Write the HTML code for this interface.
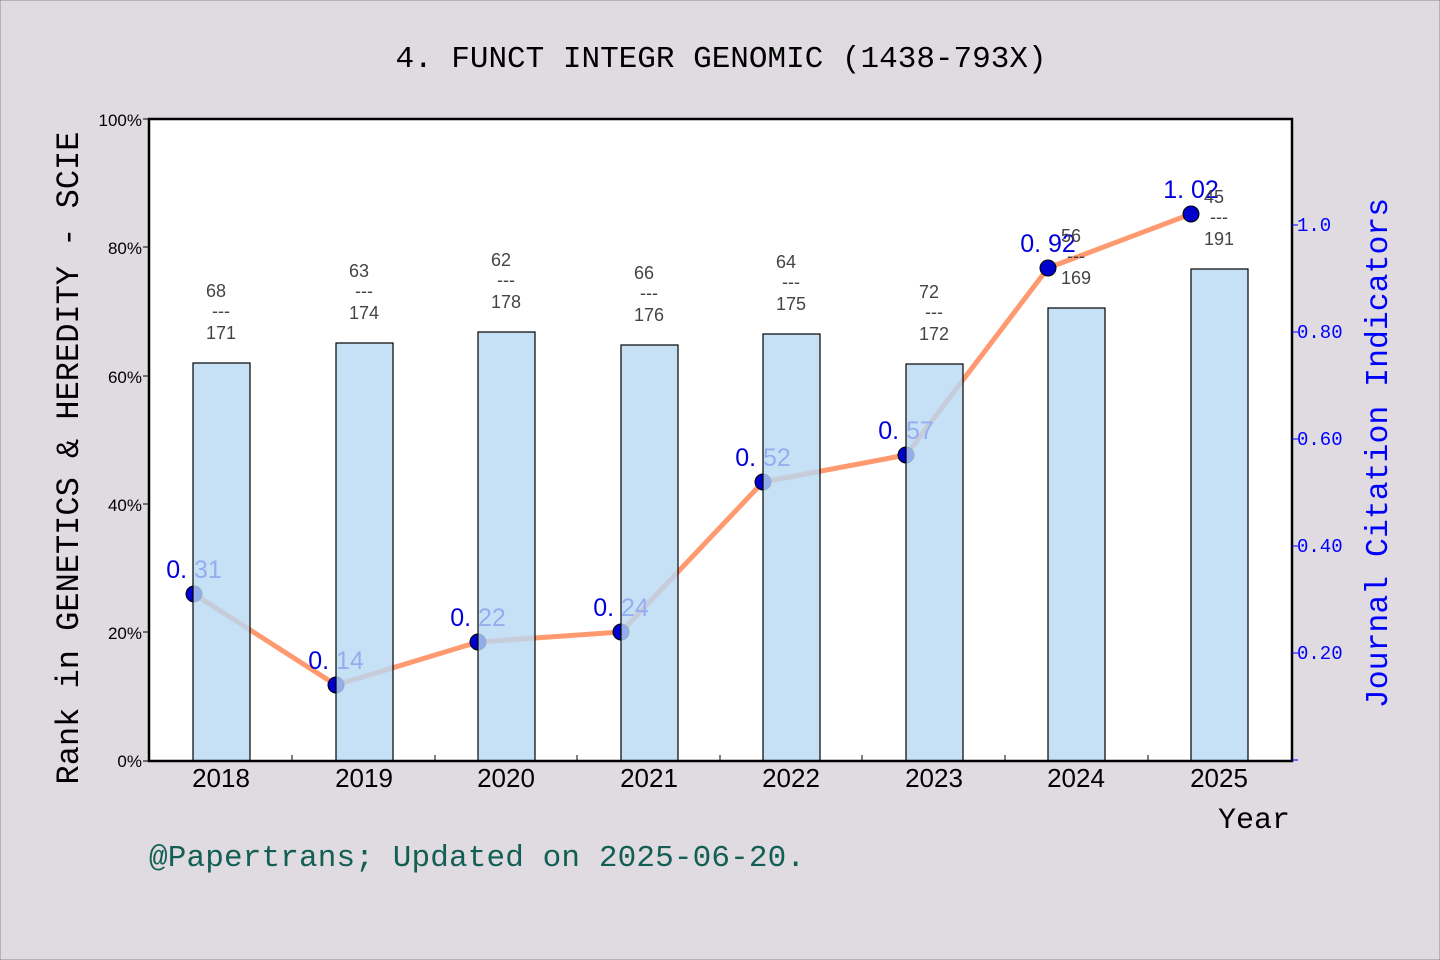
<!DOCTYPE html>
<html><head><style>body{margin:0;background:#dfdbe0}svg{display:block}</style></head><body>
<svg width="1440" height="960" xmlns="http://www.w3.org/2000/svg" font-family="'Liberation Mono','DejaVu Sans Mono',monospace">
<rect x="0" y="0" width="1440" height="960" fill="#dfdbe0" stroke="#888" stroke-width="1"/>
<text x="721" y="67" font-size="31" text-anchor="middle" fill="#000">4. FUNCT INTEGR GENOMIC (1438-793X)</text>
<rect x="149" y="119" width="1143" height="642" fill="#fff"/>
<polyline points="194,594 336,685 478,642 621,632 763,482 906,455 1048,268 1191,214" fill="none" stroke="#ff9a70" stroke-width="5" stroke-linejoin="round"/>
<g fill="#0000cc" stroke="#000" stroke-width="1">
<circle cx="194" cy="594" r="8"/><circle cx="336" cy="685" r="8"/><circle cx="478" cy="642" r="8"/><circle cx="621" cy="632" r="8"/><circle cx="763" cy="482" r="8"/><circle cx="906" cy="455" r="8"/><circle cx="1048" cy="268" r="8"/><circle cx="1191" cy="214" r="8"/>
</g>
<g fill="#0000dd" font-size="25" text-anchor="middle" font-family="'Liberation Sans',sans-serif">
<text x="194" y="578">0. 31</text><text x="336" y="669">0. 14</text><text x="478" y="626">0. 22</text><text x="621" y="616">0. 24</text><text x="763" y="466">0. 52</text><text x="906" y="439">0. 57</text><text x="1048" y="252">0. 92</text><text x="1191" y="198">1. 02</text>
</g>
<g fill="rgb(184,216,244)" fill-opacity="0.8" stroke="#000" stroke-width="1.2">
<rect x="193" y="363" width="57" height="398"/><rect x="336" y="343" width="57" height="418"/><rect x="478" y="332" width="57" height="429"/><rect x="621" y="345" width="57" height="416"/><rect x="763" y="334" width="57" height="427"/><rect x="906" y="364" width="57" height="397"/><rect x="1048" y="308" width="57" height="453"/><rect x="1191" y="269" width="57" height="492"/>
</g>
<g fill="#444" font-size="18" text-anchor="middle" font-family="'Liberation Sans',sans-serif">
<text x="216" y="297">68</text><text x="221" y="317">---</text><text x="221" y="339">171</text>
<text x="359" y="277">63</text><text x="364" y="297">---</text><text x="364" y="319">174</text>
<text x="501" y="266">62</text><text x="506" y="286">---</text><text x="506" y="308">178</text>
<text x="644" y="279">66</text><text x="649" y="299">---</text><text x="649" y="321">176</text>
<text x="786" y="268">64</text><text x="791" y="288">---</text><text x="791" y="310">175</text>
<text x="929" y="298">72</text><text x="934" y="318">---</text><text x="934" y="340">172</text>
<text x="1071" y="242">56</text><text x="1076" y="262">---</text><text x="1076" y="284">169</text>
<text x="1214" y="203">45</text><text x="1219" y="223">---</text><text x="1219" y="245">191</text>
</g>
<rect x="149" y="119" width="1143" height="642" fill="none" stroke="#000" stroke-width="2.5"/>
<g stroke="#000" stroke-width="1">
<line x1="143" y1="119" x2="149" y2="119"/><line x1="143" y1="247" x2="149" y2="247"/><line x1="143" y1="376" x2="149" y2="376"/><line x1="143" y1="504" x2="149" y2="504"/><line x1="143" y1="632" x2="149" y2="632"/><line x1="143" y1="761" x2="149" y2="761"/>
<line x1="292" y1="755" x2="292" y2="761"/><line x1="435" y1="755" x2="435" y2="761"/><line x1="577" y1="755" x2="577" y2="761"/><line x1="720" y1="755" x2="720" y2="761"/><line x1="862" y1="755" x2="862" y2="761"/><line x1="1005" y1="755" x2="1005" y2="761"/><line x1="1148" y1="755" x2="1148" y2="761"/>
</g>
<g stroke="#00f" stroke-width="1">
<line x1="1292" y1="225" x2="1298" y2="225"/><line x1="1292" y1="332" x2="1298" y2="332"/><line x1="1292" y1="439" x2="1298" y2="439"/><line x1="1292" y1="546" x2="1298" y2="546"/><line x1="1292" y1="653" x2="1298" y2="653"/><line x1="1292" y1="760" x2="1298" y2="760"/>
</g>
<g font-size="17" text-anchor="end" fill="#000" font-family="'Liberation Sans',sans-serif">
<text x="142" y="126">100%</text><text x="142" y="254">80%</text><text x="142" y="383">60%</text><text x="142" y="511">40%</text><text x="142" y="639">20%</text><text x="142" y="767">0%</text>
</g>
<g font-size="19" fill="#00f">
<text x="1297" y="231">1.0</text><text x="1297" y="338">0.80</text><text x="1297" y="445">0.60</text><text x="1297" y="552">0.40</text><text x="1297" y="659">0.20</text>
</g>
<g font-size="26" text-anchor="middle" fill="#000" font-family="'Liberation Sans',sans-serif">
<text x="221" y="787">2018</text><text x="364" y="787">2019</text><text x="506" y="787">2020</text><text x="649" y="787">2021</text><text x="791" y="787">2022</text><text x="934" y="787">2023</text><text x="1076" y="787">2024</text><text x="1219" y="787">2025</text>
</g>
<text x="1290" y="828" font-size="30" text-anchor="end" fill="#000">Year</text>
<text transform="translate(78,458) rotate(-90)" font-size="32" text-anchor="middle" fill="#000">Rank in GENETICS &amp; HEREDITY - SCIE</text>
<text transform="translate(1387,453) rotate(-90)" font-size="31.5" text-anchor="middle" fill="#00f">Journal Citation Indicators</text>
<text x="149" y="866" font-size="31" fill="#135f55" textLength="656">@Papertrans; Updated on 2025-06-20.</text>
</svg>
</body></html>
